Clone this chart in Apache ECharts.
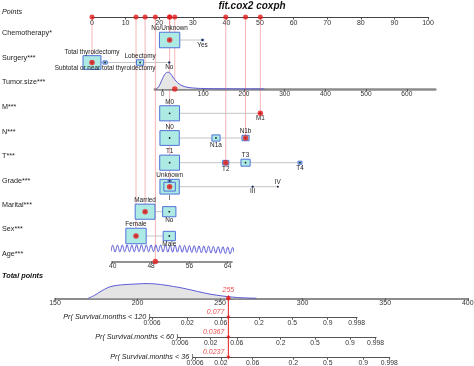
<!DOCTYPE html>
<html><head><meta charset="utf-8">
<script src="https://cdn.jsdelivr.net/npm/echarts@6/dist/echarts.min.js"></script>
<style>html,body{margin:0;padding:0;background:#fff}#c{width:474px;height:366px}</style>
</head><body><div id="c"></div>
<script>
// ================= DATA =================
const titleText = 'fit.cox2 coxph';
const pointTicks = [0,10,20,30,40,50,60,70,80,90,100];
const rowNames = ['Chemotherapy*','Surgery***','Tumor.size***','M***','N***','T***','Grade***','Marital***','Sex***','Age***'];

const chemoLevels = ['No/Unknown','Yes'];
const chemoPoints = [23.1, 32.9];
const chemoFreq = [0.94, 0.01];

const surgeryLevels = ['Total thyroidectomy','Subtotal or near total thyroidectomy','Lobectomy','No'];
const surgeryPoints = [0, 3.9, 14.3, 23.0];
const surgeryFreq = [0.73, 0.04, 0.115, 0.005];

const mLevels = ['M0','M1'];
const mPoints = [23.1, 50.1];
const mFreq = [0.89, 0.004];

const nLevels = ['N0','N1a','N1b'];
const nPoints = [23.1, 36.9, 45.7];
const nFreq = [0.85, 0.15, 0.115];

const tLevels = ['T1','T2','T3','T4'];
const tPoints = [23.1, 39.8, 45.7, 61.9];
const tFreq = [0.89, 0.085, 0.19, 0.035];

const gradeLevels = ['I','II','Unknown','III','IV'];
const gradePoints = [23.1, 23.1, 23.1, 47.8, 55.3];
const gradeFreq = [0.85, 0.02, 0.3, 0.004, 0.002];

const maritalLevels = ['Married','No'];
const maritalPoints = [15.8, 23.0];
const maritalFreq = [0.89, 0.4];

const sexLevels = ['Female','Male'];
const sexPoints = [13.1, 23.0];
const sexFreq = [0.94, 0.34];

const tumorTicks = [0,100,200,300,400,500,600];
const tumorScale = [[0, 21.0],[600, 93.7]];   // tumor size <-> points
const tumorDensX = [-16,-10,-5,0,5,10,14,18,23,28,33,40,50,60,75,100,150,250];
const tumorDensY = [0,2,6,10.5,14.5,16.5,16.8,16,13.5,10.5,8,5.2,3,1.8,1,0.5,0.2,0.05];

const ageTicks = [40,48,56,64];
const ageScale = [[40, 6.16],[64, 40.4]];     // age <-> points
const ageDensX = [38.2,38.5,39,39.5,40,40.5,41,41.5,42,42.5,43,43.5,44,44.5,45,45.5,46,46.5,47,47.5,48,48.5,49,49.5,50,50.5,51,51.5,52,52.5,53,53.5,54,54.5,55,55.5,56,56.5,57,57.5,58,58.5,59,59.5,60,60.5,61,61.5,62,62.5,63,63.5,64,64.5,65,65.5,65.8];
const ageDensY = [10.5,9.6,15.8,9.3,16.3,9.5,16.4,9.6,16.5,9.7,16.6,9.7,16.5,9.6,16.7,9.8,16.6,9.7,16.5,9.6,16.7,9.8,16.6,9.7,16.5,9.5,16.4,9.4,16.3,9.3,16.4,9.4,16.2,9.2,16.1,9.1,16.0,9.0,15.9,8.9,15.7,8.7,15.5,8.6,15.4,8.5,15.2,8.3,15.0,8.1,14.8,7.9,14.5,7.6,14.1,7.0,5.5];

const totalTicks = [150,200,250,300,350,400];
const totalDensX = [170,174,177.3,180,183.3,187,192.4,199,205.7,211,216.6,221,225.7,232,237.8,242,245.7,253,259,265,272];
const totalDensY = [0,3,6.5,9,11.5,12.8,13.7,14.3,14.7,14.3,13.2,12,10.7,8.5,6.3,4.8,3.7,2,1,0.4,0.1];

const prLabels = ['Pr( Survival.months < 120 )','Pr( Survival.months < 60 )','Pr( Survival.months < 36 )'];
const prTickProbs = [0.006,0.02,0.06,0.2,0.5,0.9,0.998];
const pr120TickPoints = [208.8,230.1,250.4,273.6,293.7,315.2,332.7];
const pr60TickPoints  = [225.7,244.3,260.1,286.7,307.5,328.7,344.2];
const pr36TickPoints  = [234.8,250.5,269.7,294.3,315.2,336.7,352.5];

// selected observation
const obsChemo = 'No/Unknown', obsSurgery = 'Total thyroidectomy', obsTumor = 30,
      obsM = 'M1', obsN = 'N1b', obsT = 'T2', obsGrade = 'Unknown',
      obsMarital = 'Married', obsSex = 'Female', obsAge = 48.9;
const obsTotal = 255;
const obsProbs = ['0.077','0.0367','0.0237'];

// ================= LAYOUT / STYLE =================
const W = 474, H = 366;
const FONT = '"Liberation Sans", Arial, sans-serif';
const PT_X0 = 92, PT_PX = 3.36;
const TP_V0 = 150, TP_X0 = 55, TP_PX = 1.651;
const pointsAxisY = 17;
const rowLabelY = [33.3,57.7,81.7,106.7,131.7,156,181,205,229.3,254];
const tumorAxisY = 89, ageAxisY = 261.5, totalAxisY = 298.3;
const prAxisY = [317.7,337.7,357.7];
const RED = '#e41a1c', PINK = 'rgba(232,80,80,0.42)';
const BOX_FILL = '#aeeae4', BOX_STROKE = '#4f72d8', DENS = '#5a5ad8';

const p2x = p => PT_X0 + p * PT_PX;
const tp2x = t => TP_X0 + (t - TP_V0) * TP_PX;
const lerpScale = (sc, v) => sc[0][1] + (v - sc[0][0]) * (sc[1][1] - sc[0][1]) / (sc[1][0] - sc[0][0]);

const catRows = [
  {levels: chemoLevels, pts: chemoPoints, freq: chemoFreq, sides: ['above','below'], y: 40, obs: obsChemo},
  {levels: surgeryLevels, pts: surgeryPoints, freq: surgeryFreq, sides: ['above','below','above','below'], y: 62.5, obs: obsSurgery},
  {levels: mLevels, pts: mPoints, freq: mFreq, sides: ['above','below'], y: 113.3, obs: obsM},
  {levels: nLevels, pts: nPoints, freq: nFreq, sides: ['above','below','above'], y: 138, obs: obsN},
  {levels: tLevels, pts: tPoints, freq: tFreq, sides: ['above','below','above','below'], y: 162.7, obs: obsT},
  {levels: gradeLevels, pts: gradePoints, freq: gradeFreq, sides: ['below','none','above','below','above'], y: 186.7, obs: obsGrade},
  {levels: maritalLevels, pts: maritalPoints, freq: maritalFreq, sides: ['above','below'], y: 211.7, obs: obsMarital},
  {levels: sexLevels, pts: sexPoints, freq: sexFreq, sides: ['above','below'], y: 236, obs: obsSex}
];
const boxDims = f => { const s = Math.sqrt(f); return [21 * s, 16 * s]; };

const catItems = [];
catRows.forEach(r => {
  r.levels.forEach((l, i) => {
    let clusterHalf = 0;
    r.levels.forEach((l2, j) => { if (Math.abs(r.pts[j] - r.pts[i]) < 0.5) clusterHalf = Math.max(clusterHalf, boxDims(r.freq[j])[1] / 2); });
    catItems.push({label: l, pts: r.pts[i], freq: r.freq[i], side: r.sides[i], y: r.y, clusterHalf});
  });
});
catItems.sort((a, b) => b.freq - a.freq);

const obsMarks = catRows.map(r => ({pts: r.pts[r.levels.indexOf(r.obs)], y: r.y}));
const tumorObsPts = lerpScale(tumorScale, obsTumor);
const ageObsPts = lerpScale(ageScale, obsAge);
const allObs = obsMarks.concat([{pts: tumorObsPts, y: tumorAxisY}, {pts: ageObsPts, y: ageAxisY}]);

// ================= OPTION =================
const hiddenAxis = extra => Object.assign({type: 'value', show: false, splitLine: {show: false}}, extra);
const gridBase = {containLabel: false, outerBoundsMode: 'none', show: false};

const tumorMin = -19, tumorMax = 670;
const ageMin = 39.8, ageMax = 64.9;
const prTicks = [pr120TickPoints, pr60TickPoints, pr36TickPoints];
const prMin = t => t[0] - 1.2;
const prMax = t => t[t.length - 1] + 0.3;

const grids = [
  Object.assign({left: 0, top: 0, width: W, height: H}, gridBase),
  Object.assign({left: 0, top: 0, width: W, height: H}, gridBase),
  Object.assign({left: p2x(0), top: pointsAxisY - 1, width: 100 * PT_PX, height: 1}, gridBase),
  Object.assign({left: p2x(lerpScale(tumorScale, tumorMin)), top: tumorAxisY - 19,
    width: p2x(lerpScale(tumorScale, tumorMax)) - p2x(lerpScale(tumorScale, tumorMin)), height: 19}, gridBase),
  Object.assign({left: p2x(lerpScale(ageScale, ageMin)), top: ageAxisY - 18,
    width: p2x(lerpScale(ageScale, ageMax)) - p2x(lerpScale(ageScale, ageMin)), height: 18}, gridBase),
  Object.assign({left: tp2x(150), top: totalAxisY - 17, width: tp2x(400) - tp2x(150), height: 17}, gridBase)
];
prTicks.forEach((t, i) => {
  grids.push(Object.assign({left: tp2x(prMin(t)), top: prAxisY[i] - 1, width: tp2x(prMax(t)) - tp2x(prMin(t)), height: 1}, gridBase));
});

const tickLabel = (size) => ({fontSize: size, color: '#333', fontFamily: FONT});

const xAxes = [
  hiddenAxis({gridIndex: 0, min: -PT_X0 / PT_PX, max: (W - PT_X0) / PT_PX}),
  hiddenAxis({gridIndex: 1, min: TP_V0 - TP_X0 / TP_PX, max: TP_V0 + (W - TP_X0) / TP_PX}),
  {type: 'value', gridIndex: 2, min: 0, max: 100, interval: 10, splitLine: {show: false},
    axisLine: {lineStyle: {color: '#444', width: 1}}, axisTick: {length: 2.5, lineStyle: {color: '#444'}},
    axisLabel: Object.assign({margin: 2.5}, tickLabel(7))},
  {type: 'value', gridIndex: 3, min: tumorMin, max: tumorMax, splitLine: {show: false},
    axisLine: {lineStyle: {color: '#8c8c8c', width: 2.5}},
    axisTick: {customValues: tumorTicks, length: 2, lineStyle: {color: '#555'}},
    axisLabel: Object.assign({customValues: tumorTicks, margin: 2}, tickLabel(6.6))},
  {type: 'value', gridIndex: 4, min: ageMin, max: ageMax, splitLine: {show: false},
    axisLine: {lineStyle: {color: '#6e6e6e', width: 1.6}},
    axisTick: {customValues: ageTicks, length: 2, lineStyle: {color: '#555'}},
    axisLabel: Object.assign({customValues: ageTicks, margin: 1.5}, tickLabel(6.6))},
  {type: 'value', gridIndex: 5, min: 150, max: 400, interval: 50, splitLine: {show: false},
    axisLine: {lineStyle: {color: '#8c8c8c', width: 2}},
    axisTick: {length: 2, lineStyle: {color: '#555'}},
    axisLabel: Object.assign({margin: 1.5, showMaxLabel: true}, tickLabel(7))}
];
prTicks.forEach((t, i) => {
  xAxes.push({type: 'value', gridIndex: 6 + i, min: prMin(t), max: prMax(t), splitLine: {show: false},
    axisLine: {lineStyle: {color: '#555', width: 1}},
    axisTick: {customValues: t, length: 2, lineStyle: {color: '#555'}},
    axisLabel: Object.assign({customValues: t, margin: 1.5,
      formatter: v => { const k = t.findIndex(q => Math.abs(q - v) < 1e-6); return k >= 0 ? String(prTickProbs[k]) : ''; }}, tickLabel(6.8))
  });
});

const yAxes = [
  hiddenAxis({gridIndex: 0, min: 0, max: H, inverse: true}),
  hiddenAxis({gridIndex: 1, min: 0, max: H, inverse: true}),
  hiddenAxis({gridIndex: 2, min: 0, max: 1}),
  hiddenAxis({gridIndex: 3, min: 0, max: 19}),
  hiddenAxis({gridIndex: 4, min: 0, max: 18}),
  hiddenAxis({gridIndex: 5, min: 0, max: 17}),
  hiddenAxis({gridIndex: 6, min: 0, max: 1}),
  hiddenAxis({gridIndex: 7, min: 0, max: 1}),
  hiddenAxis({gridIndex: 8, min: 0, max: 1})
];

const series = [];

series.push({type: 'custom', xAxisIndex: 0, yAxisIndex: 0, clip: false, z: 1,
  data: allObs.map(o => [o.pts, o.y]),
  renderItem: (params, api) => {
    const a = api.coord([api.value(0), pointsAxisY]);
    const b = api.coord([api.value(0), api.value(1)]);
    return {type: 'line', shape: {x1: a[0], y1: a[1], x2: b[0], y2: b[1]}, style: {stroke: PINK, lineWidth: 1}};
  }});

series.push({type: 'custom', xAxisIndex: 0, yAxisIndex: 0, clip: false, z: 2,
  data: catRows.map(r => [Math.min.apply(null, r.pts), Math.max.apply(null, r.pts), r.y]),
  renderItem: (params, api) => {
    const a = api.coord([api.value(0), api.value(2)]);
    const b = api.coord([api.value(1), api.value(2)]);
    return {type: 'line', shape: {x1: a[0], y1: a[1], x2: b[0], y2: b[1]}, style: {stroke: '#c4c4c4', lineWidth: 1}};
  }});

series.push({type: 'custom', xAxisIndex: 0, yAxisIndex: 0, clip: false, z: 3,
  data: catItems.map(it => [it.pts, it.y]),
  renderItem: (params, api) => {
    const it = catItems[params.dataIndex];
    const c = api.coord([api.value(0), api.value(1)]);
    const d = boxDims(it.freq);
    let cy = c[1];
    if (it.side === 'none') cy = c[1] - (it.clusterHalf - d[1] / 2 - 0.5);
    const children = [
      {type: 'rect', shape: {x: c[0] - d[0] / 2, y: cy - d[1] / 2, width: d[0], height: d[1]},
        style: {fill: BOX_FILL, stroke: BOX_STROKE, lineWidth: 1}},
      {type: 'circle', shape: {cx: c[0], cy: cy, r: 0.9}, style: {fill: '#222'}}
    ];
    if (it.side === 'above' || it.side === 'below') {
      const half = Math.max(it.clusterHalf, 1);
      const above = it.side === 'above';
      children.push({type: 'text', x: c[0], y: above ? c[1] - half - 0.8 : c[1] + half + 0.8,
        style: {text: it.label, fontSize: 6.4, fontFamily: FONT, fill: '#222',
          align: 'center', textAlign: 'center', verticalAlign: above ? 'bottom' : 'top', textVerticalAlign: above ? 'bottom' : 'top'}});
    }
    return {type: 'group', children};
  }});

series.push({type: 'scatter', xAxisIndex: 0, yAxisIndex: 0, clip: false, z: 5, symbolSize: 5.5,
  itemStyle: {color: RED}, data: obsMarks.map(o => [o.pts, o.y])});
series.push({type: 'scatter', xAxisIndex: 0, yAxisIndex: 0, clip: false, z: 5, symbolSize: 5,
  itemStyle: {color: RED}, data: allObs.map(o => [o.pts, pointsAxisY])});

series.push({type: 'line', xAxisIndex: 3, yAxisIndex: 3, clip: false, smooth: 0.4, symbol: 'none', z: 2,
  lineStyle: {color: DENS, width: 1}, areaStyle: {color: '#e6e6e6', opacity: 1},
  data: tumorDensX.map((x, i) => [x, tumorDensY[i]])});
series.push({type: 'scatter', xAxisIndex: 3, yAxisIndex: 3, clip: false, z: 5, symbolSize: 5.5,
  itemStyle: {color: RED}, data: [[obsTumor, 0]]});

series.push({type: 'line', xAxisIndex: 4, yAxisIndex: 4, clip: false, smooth: 0.35, symbol: 'none', z: 2,
  lineStyle: {color: DENS, width: 1},
  data: ageDensX.map((x, i) => [x, ageDensY[i]])});
series.push({type: 'scatter', xAxisIndex: 4, yAxisIndex: 4, clip: false, z: 5, symbolSize: 5.5,
  itemStyle: {color: RED}, data: [[obsAge, 0]]});

series.push({type: 'line', xAxisIndex: 5, yAxisIndex: 5, clip: false, smooth: 0.4, symbol: 'none', z: 2,
  lineStyle: {color: DENS, width: 1}, areaStyle: {color: '#e4e4e4', opacity: 1},
  data: totalDensX.map((x, i) => [x, totalDensY[i]])});

series.push({type: 'line', xAxisIndex: 1, yAxisIndex: 1, clip: false, symbol: 'none', z: 4,
  lineStyle: {color: RED, width: 1}, data: [[obsTotal, totalAxisY - 3], [obsTotal, prAxisY[2]]]});
series.push({type: 'scatter', xAxisIndex: 5, yAxisIndex: 5, clip: false, z: 6, symbolSize: 4.5,
  itemStyle: {color: RED}, data: [[obsTotal, 0]],
  label: {show: true, position: 'top', distance: 2.5, formatter: String(obsTotal), color: RED, fontSize: 7, fontStyle: 'italic', fontFamily: FONT}});
obsProbs.forEach((p, i) => {
  series.push({type: 'scatter', xAxisIndex: 6 + i, yAxisIndex: 6 + i, clip: false, z: 6, symbolSize: 4,
    symbol: 'triangle', symbolRotate: 180,
    itemStyle: {color: RED}, data: [[obsTotal, 0]],
    label: {show: true, position: [-2, -4], align: 'right', verticalAlign: 'middle', formatter: p,
      color: RED, fontSize: 7, fontStyle: 'italic', fontFamily: FONT}});
});

const graphic = [
  {type: 'text', x: 252, y: 6, style: {text: titleText, fontSize: 10, fontWeight: 'bold', fontStyle: 'italic', fontFamily: FONT, fill: '#111',
    align: 'center', textAlign: 'center', verticalAlign: 'middle', textVerticalAlign: 'middle'}},
  {type: 'text', x: 2, y: 12, style: {text: 'Points', fontSize: 7.2, fontStyle: 'italic', fontFamily: FONT, fill: '#222',
    align: 'left', textAlign: 'left', verticalAlign: 'middle', textVerticalAlign: 'middle'}},
  {type: 'text', x: 2, y: 276, style: {text: 'Total points', fontSize: 7.3, fontStyle: 'italic', fontWeight: 'bold', fontFamily: FONT, fill: '#111',
    align: 'left', textAlign: 'left', verticalAlign: 'middle', textVerticalAlign: 'middle'}}
];
rowNames.forEach((n, i) => graphic.push({type: 'text', x: 2, y: rowLabelY[i],
  style: {text: n, fontSize: 7.2, fontFamily: FONT, fill: '#222', align: 'left', textAlign: 'left', verticalAlign: 'middle', textVerticalAlign: 'middle'}}));
prTicks.forEach((t, i) => graphic.push({type: 'text', x: tp2x(prMin(t)) + 0.5, y: prAxisY[i] - 0.5,
  style: {text: prLabels[i], fontSize: 7.2, fontStyle: 'italic', fontFamily: FONT, fill: '#222',
    align: 'right', textAlign: 'right', verticalAlign: 'middle', textVerticalAlign: 'middle'}}));

const chart = echarts.init(document.getElementById('c'), null, {renderer: 'canvas'});
chart.setOption({
  animation: false,
  backgroundColor: '#fff',
  textStyle: {fontFamily: FONT},
  grid: grids, xAxis: xAxes, yAxis: yAxes, series, graphic
});
</script></body></html>
